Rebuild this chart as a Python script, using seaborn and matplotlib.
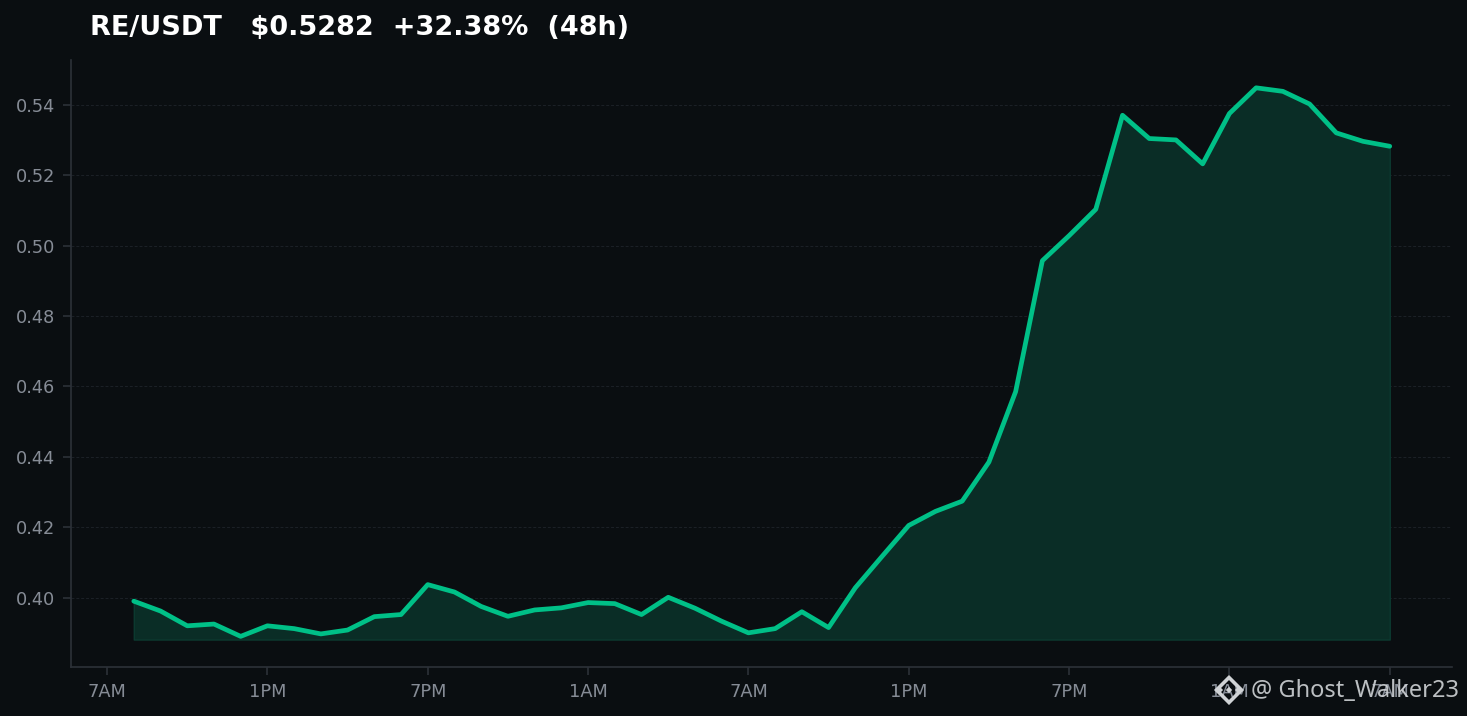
import matplotlib
matplotlib.use("Agg")
import matplotlib.pyplot as plt
import matplotlib.patches as mpatches
import numpy as np
import pandas as pd
import seaborn as sns

BG = "#0a0e11"
GREEN = "#00c087"
FILL = "#0a2d26"
AXIS = "#2c3138"
TICK = "#868c96"

hours = list(range(1, 49))
prices = [
    0.3990, 0.3962, 0.3920, 0.3925, 0.3890, 0.3920, 0.3912, 0.3897,
    0.3908, 0.3946, 0.3952, 0.4037, 0.4016, 0.3975, 0.3947, 0.3965,
    0.3971, 0.3986, 0.3983, 0.3952, 0.4001, 0.3970, 0.3933, 0.3900,
    0.3912, 0.3960, 0.3915, 0.4028, 0.4117, 0.4205, 0.4245, 0.4274,
    0.4385, 0.4585, 0.4957, 0.5028, 0.5103, 0.5370, 0.5304, 0.5300,
    0.5232, 0.5375, 0.5448, 0.5438, 0.5402, 0.5320, 0.5296, 0.5282,
]
fill_floor = 0.3881
x_ticks = [0, 6, 12, 18, 24, 30, 36, 42, 48]
x_labels = ["7AM", "1PM", "7PM", "1AM", "7AM", "1PM", "7PM", "1AM", "7AM"]
y_ticks = [0.40, 0.42, 0.44, 0.46, 0.48, 0.50, 0.52, 0.54]

df = pd.DataFrame({"hour": hours, "price": prices})

sns.set_theme(style="dark", rc={"axes.facecolor": BG, "figure.facecolor": BG})
plt.rcParams["font.family"] = ["DejaVu Sans"]

fig = plt.figure(figsize=(14.67, 7.16), dpi=100)
ax = fig.add_axes([71 / 1467, 1 - 667 / 716, (1452 - 71) / 1467, (667 - 60) / 716])

ax.fill_between(df["hour"], df["price"], fill_floor, color=FILL, linewidth=1, edgecolor="#0c3a30", zorder=2)
sns.lineplot(data=df, x="hour", y="price", ax=ax, color=GREEN, linewidth=3.4, zorder=3)

ax.set_xlim(-1.35, 50.33)
ax.set_ylim(0.3803, 0.5527)
ax.set_xticks(x_ticks, x_labels)
ax.set_yticks(y_ticks, [f"{v:.2f}" for v in y_ticks])
ax.set_xlabel("")
ax.set_ylabel("")
ax.grid(axis="y", color="#1c2127", linestyle=(0, (3, 2)), linewidth=0.7)
ax.grid(axis="x", visible=False)
ax.set_axisbelow(True)
ax.tick_params(axis="both", colors=AXIS, labelcolor=TICK, labelsize=12.8, length=6, width=1.2, pad=5.5, bottom=True, left=True)
for side in ["top", "right"]:
    ax.spines[side].set_visible(False)
for side in ["left", "bottom"]:
    ax.spines[side].set_color(AXIS)
    ax.spines[side].set_linewidth(1.2)

fig.text(90 / 1467, 1 - 28.3 / 716, "RE/USDT   $0.5282  +32.38%  (48h)", color="white",
         fontsize=19.5, fontweight="bold", va="center", ha="left")

# watermark: diamond logo plus handle
wm = "#d0d3d6"
fig.text(1459 / 1467, 1 - 691 / 716, "@ Ghost_Walker23", color=wm, alpha=0.9,
         family="Noto Sans", fontsize=17, va="center", ha="right")
cx, cy = 1229, 690
def diamond(dx, dy, r, fill=True):
    xy = [(cx + dx, cy + dy - r), (cx + dx + r, cy + dy), (cx + dx, cy + dy + r), (cx + dx - r, cy + dy)]
    pts = [(px / 1467, 1 - py / 716) for px, py in xy]
    fig.add_artist(mpatches.Polygon(pts, closed=True, transform=fig.transFigure,
                                    facecolor=wm if fill else "none", edgecolor=wm,
                                    linewidth=0 if fill else 2.6, zorder=10))
diamond(0, 0, 12.5, fill=False)
diamond(0, 0, 3.2)
diamond(-8.5, 0, 2.6)
diamond(8.5, 0, 2.6)

fig.savefig("out.png", dpi=100, facecolor=BG)
